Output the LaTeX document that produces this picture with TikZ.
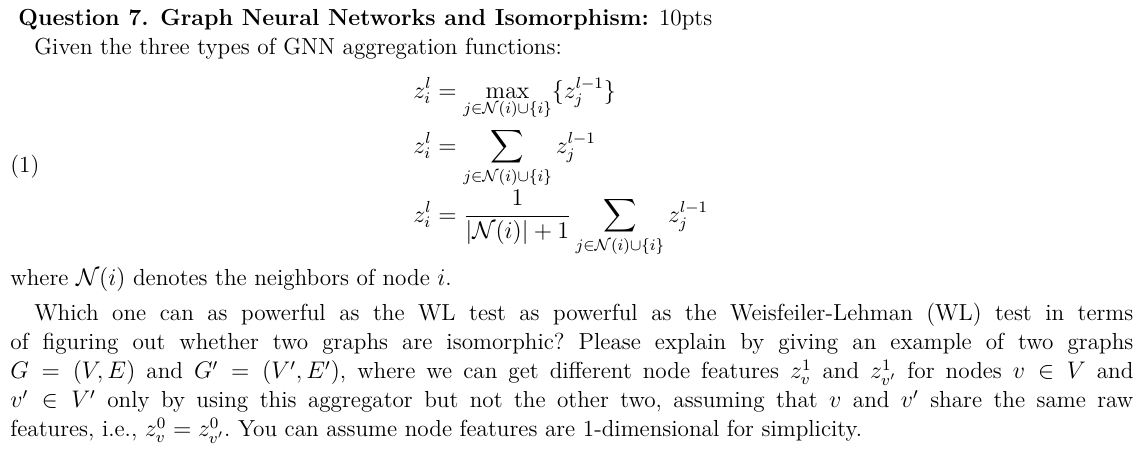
\documentclass[tikz,border=0pt]{standalone}
\usepackage{amsmath,amssymb}
\begin{document}
\begin{tikzpicture}[x=0.5pt,y=-0.5pt,
  txt/.style={anchor=base west,inner sep=0pt,font=\fontsize{11.6}{14.5}\selectfont}]
\useasboundingbox (0,0) rectangle (1142,456);
\node[txt] (title) at (18,25) {\textbf{Question 7. Graph Neural Networks and Isomorphism:} 10pts};
\node[txt] (given) at (34,54) {Given the three types of GNN aggregation functions:};
\node[txt] (e1) at (413,98) {$\displaystyle z_i^l = \max_{j\in\mathcal{N}(i)\cup\{i\}}\{z_j^{l-1}\}$};
\node[txt] (e2) at (413,153) {$\displaystyle z_i^l = \sum_{j\in\mathcal{N}(i)\cup\{i\}} z_j^{l-1}$};
\node[txt] (num) at (10,172) {(1)};
\node[txt] (e3) at (413,222) {$\displaystyle z_i^l = \frac{1}{|\mathcal{N}(i)|+1}\sum_{j\in\mathcal{N}(i)\cup\{i\}} z_j^{l-1}$};
\node[txt] (where) at (10,285) {where $\mathcal{N}(i)$ denotes the neighbors of node $i$.};
\node[txt,anchor=north west,text width=1123*0.5pt,align=justify,font=\fontsize{11.6}{14.5}\selectfont] (para) at (10,303) {\frenchspacing\lineskiplimit=-20pt\hspace*{12pt}Which one can as powerful as the WL test as powerful as the Weisfeiler-Lehman (WL) test in terms\linebreak of figuring out whether two graphs are isomorphic? Please explain by giving an example of two graphs\linebreak $G=(V,E)$ and $G'=(V',E')$, where we can get different node features $z_v^1$ and $z_{v'}^1$ for nodes $v\in V$ and\linebreak $v'\in V'$ only by using this aggregator but not the other two, assuming that $v$ and $v'$ share the same raw\linebreak features, i.e., $z_v^0=z_{v'}^0$. You can assume node features are 1-dimensional for simplicity.};
\end{tikzpicture}
\end{document}
